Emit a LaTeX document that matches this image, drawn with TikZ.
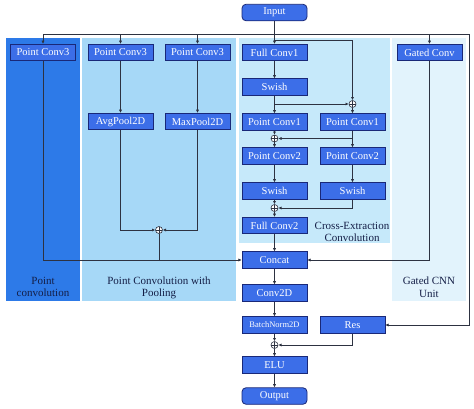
\documentclass[tikz,border=0pt]{standalone}
\usepackage{fontspec}
\setmainfont{Liberation Serif}
\usetikzlibrary{arrows.meta}
\definecolor{boxfill}{RGB}{60,110,232}
\definecolor{boxline}{RGB}{25,40,120}
\definecolor{pdark}{RGB}{45,122,232}
\definecolor{plight}{RGB}{166,216,247}
\definecolor{pcross}{RGB}{198,233,250}
\definecolor{pgated}{RGB}{226,243,252}
\definecolor{wire}{RGB}{45,50,65}
\definecolor{lbl}{RGB}{20,30,70}
\begin{document}
\begin{tikzpicture}[x=1pt,y=-1pt,
  blk/.style={draw=boxline, fill=boxfill, line width=0.8pt, minimum width=65pt, minimum height=16.5pt, inner sep=0pt, text=white, font=\fontsize{10.5}{11}\selectfont},
  term/.style={blk, rounded corners=4pt},
  sumn/.style={circle, draw=wire, fill=white, line width=0.6pt, minimum size=7pt, inner sep=0pt,
    path picture={\draw[wire,line width=0.6pt] (path picture bounding box.north) -- (path picture bounding box.south) (path picture bounding box.west) -- (path picture bounding box.east);}},
  wire/.style={draw=wire, line width=0.7pt},
  arr/.style={wire, -{Latex[length=3.2pt,width=3.2pt]}},
  plabel/.style={text=lbl, align=center, font=\fontsize{11}{12.5}\selectfont}
]
\useasboundingbox[fill=white] (0,0) rectangle (474,408);
% panels
\fill[pdark] (6,38) rectangle (80,301);
\fill[plight] (82,38) rectangle (236,301);
\fill[pcross] (239,38) rectangle (390,243);
\fill[pgated] (392,38) rectangle (466,301);
\node[plabel] (lab1) at (43,287) {Point\\convolution};
\node[plabel] (lab2) at (159,288) {Point Convolution with\\Pooling};
\node[plabel] (lab3) at (352,232) {Cross-Extraction\\Convolution};
\node[plabel] (lab4) at (429,287) {Gated CNN\\Unit};
% nodes
\node[term] (in) at (274.5,12.5) {Input};
\node[blk] (pc3a) at (43,52.5) {Point Conv3};
\node[blk] (pc3b) at (120.5,52.5) {Point Conv3};
\node[blk] (pc3c) at (197.5,52.5) {Point Conv3};
\node[blk] (avg) at (120.5,121.5) {AvgPool2D};
\node[blk] (max) at (197.5,121.5) {MaxPool2D};
\node[blk] (fc1) at (274.5,52.5) {Full Conv1};
\node[blk] (gc) at (429.5,52.5) {Gated Conv};
\node[blk] (sw1) at (274.5,87) {Swish};
\node[sumn] (s1) at (352.5,104) {};
\node[blk] (p1a) at (274.5,122) {Point Conv1};
\node[blk] (p1b) at (352.5,122) {Point Conv1};
\node[sumn] (s2) at (274.5,138.5) {};
\node[blk] (p2a) at (274.5,156) {Point Conv2};
\node[blk] (p2b) at (352.5,156) {Point Conv2};
\node[blk] (sw2a) at (274.5,191) {Swish};
\node[blk] (sw2b) at (352.5,191) {Swish};
\node[sumn] (s3) at (274.5,208) {};
\node[blk] (fc2) at (274.5,225.5) {Full Conv2};
\node[blk] (cat) at (274.5,260) {Concat};
\node[blk] (c2d) at (274.5,293) {Conv2D};
\node[blk, font=\fontsize{8.5}{9}\selectfont] (bn) at (274.5,325) {BatchNorm2D};
\node[blk] (res) at (352.5,325) {Res};
\node[sumn] (s4) at (274.5,345) {};
\node[blk] (elu) at (274.5,365) {ELU};
\node[term] (out) at (274.5,396) {Output};
\node[sumn] (sp) at (159,230) {};
% bus coordinates
\coordinate (tl) at (43,34);
\coordinate (tm) at (274.5,34);
\coordinate (tr) at (469.5,34);
\coordinate (br1) at (274.5,40);
% connectors
\draw[wire] (in.south) -- (tm);
\draw[wire] (tl) -- (tr);
\draw[arr] (tl) -- (pc3a.north);
\draw[arr] (pc3b.north |- tl) -- (pc3b.north);
\draw[arr] (pc3c.north |- tl) -- (pc3c.north);
\draw[arr] (tm) -- (fc1.north);
\draw[arr] (gc.north |- tl) -- (gc.north);
\draw[arr] (tr) |- (res.east);
\draw[arr] (br1) -| (s1.north);
\draw[arr] (fc1) -- (sw1);
\draw[arr] (sw1) -- (p1a);
\draw[arr] (sw1.south |- s1) -- (s1.west);
\draw[arr] (s1) -- (p1b);
\draw[arr] (p1a) -- (s2);
\draw[arr] (s2) -- (p2a);
\draw[arr] (p1b) -- (p2b);
\draw[arr] (p1b.south |- s2) -- (s2.east);
\draw[arr] (p2a) -- (sw2a);
\draw[arr] (p2b) -- (sw2b);
\draw[arr] (sw2a) -- (s3);
\draw[arr] (sw2b.south) |- (s3.east);
\draw[arr] (s3) -- (fc2);
\draw[arr] (fc2) -- (cat);
\draw[arr] (pc3b) -- (avg);
\draw[arr] (pc3c) -- (max);
\draw[arr] (avg.south) |- (sp.west);
\draw[arr] (max.south) |- (sp.east);
\draw[wire] (sp.south) -- (sp |- cat);
\draw[arr] (pc3a.south) |- (cat.west);
\draw[arr] (gc.south) |- (cat.east);
\draw[arr] (cat) -- (c2d);
\draw[arr] (c2d) -- (bn);
\draw[arr] (bn) -- (s4);
\draw[arr] (s4) -- (elu);
\draw[arr] (elu) -- (out);
\draw[arr] (res.south) |- (s4.east);
\end{tikzpicture}
\end{document}
